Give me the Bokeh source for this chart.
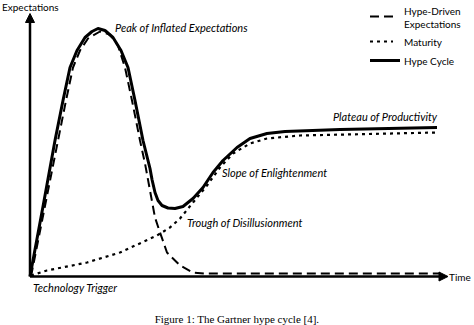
from bokeh.plotting import figure
from bokeh.models import Range1d, Arrow, NormalHead, Label
from bokeh.embed import file_html
from bokeh.resources import INLINE

# Hype Cycle (solid)
hype_t = [0, 13, 25, 33, 40, 47, 55, 62, 68, 75, 83, 91, 98, 105, 113, 117, 120, 122, 125, 128,
          132, 138, 145, 153, 163, 173, 183, 193, 207, 220, 237, 255, 310, 407]
hype_e = [0, 70, 136, 176, 209, 226, 239, 245, 248, 246, 239, 226, 209, 176, 136, 120, 108, 97, 84, 76,
          71, 68.5, 68, 70, 78, 89, 104, 116, 129, 138, 143, 145, 147, 149]

# Hype-Driven Expectations (dashed)
exp_t = [1, 28, 36, 43, 50, 58, 70, 80, 88, 95, 102, 110, 115, 120, 125, 130, 137, 150, 163, 175, 410]
exp_e = [0, 136, 176, 209, 226, 238, 245, 242, 231, 209, 176, 136, 113, 86, 59, 44, 24, 11, 4, 3, 3]

# Maturity (dotted)
mat_t = [1, 17, 57, 90, 127, 140, 150, 163, 177, 190, 203, 220, 237, 270, 407]
mat_e = [1, 6, 14, 24, 41, 49, 58, 74, 91, 109, 123, 133, 138, 141, 144]

phase_labels = ["Peak of Inflated Expectations", "Plateau of Productivity",
                "Slope of Enlightenment", "Trough of Disillusionment", "Technology Trigger"]
legend_labels = ["Hype-Driven", "Expectations", "Maturity", "Hype Cycle"]
caption = "Figure 1: The Gartner hype cycle [4]."

p = figure(width=474, height=325, output_backend="svg", toolbar_location=None,
           x_range=Range1d(-29.5, 444.5), y_range=Range1d(-49, 276),
           min_border=0, outline_line_color=None)
p.axis.visible = False
p.grid.visible = False
p.background_fill_color = "white"
p.border_fill_color = "white"

# axes with arrows
p.add_layout(Arrow(end=NormalHead(size=9, fill_color="black", line_color="black"),
                   x_start=0, y_start=0, x_end=0, y_end=263, line_width=2.5, line_color="black"))
p.add_layout(Arrow(end=NormalHead(size=9, fill_color="black", line_color="black"),
                   x_start=0, y_start=0, x_end=418, y_end=0, line_width=2.5, line_color="black"))

p.line(mat_t, mat_e, line_color="black", line_width=2.2, line_dash="3 4")
p.line(exp_t, exp_e, line_color="black", line_width=2, line_dash="9 5")
p.line(hype_t, hype_e, line_color="black", line_width=3, line_join="round")

lab_font = "Lato"
def lab(x, y, t, size="11px", style="italic", align="left", font=lab_font):
    p.add_layout(Label(x=x, y=y, text=t, text_font=font, text_font_size=size,
                       text_font_style=style, text_align=align, text_baseline="middle",
                       text_color="black"))

lab(85, 249, phase_labels[0])
lab(303, 160, phase_labels[1])
lab(192, 104, phase_labels[2])
lab(157, 54, phase_labels[3])
lab(3, -11, phase_labels[4])
lab(419, 0, "Time", size="10px", style="normal")
lab(-28, 270, "Expectations", size="10px", style="normal")

# legend
p.line([340, 365], [260, 260], line_color="black", line_width=2, line_dash="9 5")
p.line([340, 363], [235, 235], line_color="black", line_width=2.2, line_dash="3 4")
p.line([340, 370], [216, 216], line_color="black", line_width=3)
lab(374, 266, legend_labels[0], size="10px", style="normal")
lab(374, 253, legend_labels[1], size="10px", style="normal")
lab(374, 235, legend_labels[2], size="10px", style="normal")
lab(374, 216, legend_labels[3], size="10px", style="normal")

lab(207, -42, caption, size="11px", style="normal", align="center", font="Liberation Serif")

open("out.html", "w").write(file_html(p, INLINE))
